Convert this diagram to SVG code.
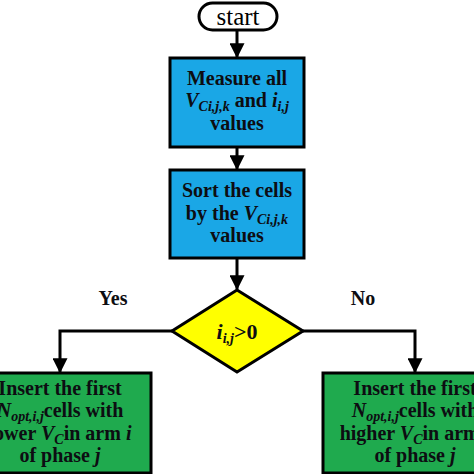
<svg xmlns="http://www.w3.org/2000/svg" width="474" height="474" viewBox="0 0 474 474">
<style>
text{font-family:"Liberation Serif","Times New Roman","DejaVu Serif",serif}
.t{font-weight:bold;font-size:20px;fill:#0d0d12;text-anchor:middle}
.i{font-style:italic}
.s{font-size:14px;font-style:italic}
.box{stroke:#000;stroke-width:3}
.ln{fill:none;stroke:#000;stroke-width:3}
</style>
<defs>
<marker id="ah" markerWidth="5" markerHeight="5" refX="4.6" refY="2.5" orient="auto" markerUnits="strokeWidth">
<path d="M0,0 L5,2.5 L0,5 Z" fill="#000"/>
</marker>
</defs>
<g id="connectors">
<line class="ln" x1="237" y1="30" x2="237" y2="57" marker-end="url(#ah)"/>
<line class="ln" x1="237" y1="147" x2="237" y2="169" marker-end="url(#ah)"/>
<line class="ln" x1="237" y1="258" x2="237" y2="289" marker-end="url(#ah)"/>
<polyline class="ln" points="172,331 60,331 60,372" marker-end="url(#ah)"/>
<polyline class="ln" points="303,331 415,331 415,372" marker-end="url(#ah)"/>
<text class="t" x="113" y="305">Yes</text>
<text class="t" x="363" y="305">No</text>
</g>
<g id="start">
<rect x="199" y="3" width="78" height="27" rx="13.5" fill="#fff" stroke="#000" stroke-width="3"/>
<text x="238" y="25" font-size="25" text-anchor="middle" fill="#000">start</text>
</g>
<g id="measure">
<rect class="box" x="170" y="58" width="134" height="89" fill="#1aa7e6"/>
<text class="t" x="237" y="85">Measure all</text>
<text class="t" x="237" y="107"><tspan class="i">V</tspan><tspan class="s" dy="4">Ci,j,k</tspan><tspan dy="-4"> and </tspan><tspan class="i">i</tspan><tspan class="s" dy="4">i,j</tspan></text>
<text class="t" x="237" y="130">values</text>
</g>
<g id="sort">
<rect class="box" x="170" y="170" width="134" height="88" fill="#1aa7e6"/>
<text class="t" x="237" y="197">Sort the cells</text>
<text class="t" x="237" y="220">by the <tspan class="i">V</tspan><tspan class="s" dy="4">Ci,j,k</tspan></text>
<text class="t" x="237" y="242">values</text>
</g>
<g id="decision">
<polygon points="237,290 303,331 237,372 172,331" fill="#ffff00" stroke="#000" stroke-width="3"/>
<text class="t" x="237" y="339" style="font-size:22px"><tspan class="i">i</tspan><tspan class="s" dy="4">i,j</tspan><tspan dy="-4">&gt;0</tspan></text>
</g>
<g id="insert-lower">
<rect class="box" x="-32" y="373" width="183" height="100" fill="#1faa4e"/>
<text class="t" x="60" y="395">Insert the first</text>
<text class="t" x="60" y="417"><tspan class="i">N</tspan><tspan class="s" dy="4">opt,i,j</tspan><tspan dy="-4">cells with</tspan></text>
<text class="t" x="60" y="440">lower <tspan class="i">V</tspan><tspan class="s" dy="4">C</tspan><tspan dy="-4">in arm </tspan><tspan class="i">i</tspan></text>
<text class="t" x="60" y="462">of phase <tspan class="i">j</tspan></text>
</g>
<g id="insert-higher">
<rect class="box" x="323" y="373" width="184" height="100" fill="#1faa4e"/>
<text class="t" x="415" y="395">Insert the first</text>
<text class="t" x="415" y="417"><tspan class="i">N</tspan><tspan class="s" dy="4">opt,i,j</tspan><tspan dy="-4">cells with</tspan></text>
<text class="t" x="415" y="440">higher <tspan class="i">V</tspan><tspan class="s" dy="4">C</tspan><tspan dy="-4">in arm </tspan><tspan class="i">i</tspan></text>
<text class="t" x="415" y="462">of phase <tspan class="i">j</tspan></text>
</g>
</svg>
